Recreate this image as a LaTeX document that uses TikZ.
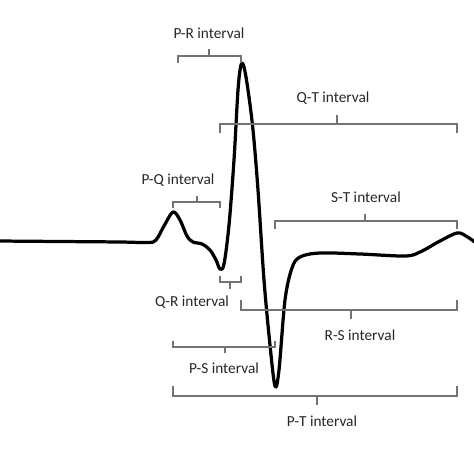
\documentclass[tikz,border=0pt]{standalone}
\usepackage{fontspec}
\setmainfont{Carlito}
\usepackage{tikz}

\begin{document}
\begin{tikzpicture}[x=0.05cm, y=-0.05cm, brk/.style={draw=black!55, line width=2.6pt}, wave/.style={line width=4.6pt, line join=round, line cap=round}, lbl/.style={font=\fontsize{21.8}{26}\selectfont, text=black!85, inner sep=0pt}]
        \useasboundingbox (0, 0) rectangle (474, 474);

        \draw[wave] plot[smooth, tension=0.55] coordinates {(-3, 241) (60, 241.5) (120, 242) (148, 242.5) (156, 240) (164, 226) (173, 212) (180, 220) (187, 236) (193, 242) (202, 244) (210, 250) (216, 260) (220, 269) (224, 264) (229, 225) (234, 160) (238, 90) (241, 65) (244, 67) (248, 90) (253, 130) (258, 190) (264, 280) (270, 345) (275, 386) (279, 370) (285, 300) (292, 268) (300, 257) (320, 253) (360, 254) (405, 256) (420, 252) (440, 241) (457, 233) (466, 236) (476, 243)};

        \node[lbl] (pr) at (209, 33) {P-R interval};
        \draw[brk] (178, 63) -- (178, 56) -- (241, 56) -- (241, 63) (209, 56) -- (209, 49);

        \node[lbl] (qt) at (333, 98) {Q-T interval};
        \draw[brk] (220, 133) -- (220, 124) -- (457, 124) -- (457, 133) (337, 124) -- (337, 115);

        \node[lbl] (pq) at (178, 180) {P-Q interval};
        \draw[brk] (173, 208) -- (173, 202) -- (220, 202) -- (220, 208) (197, 202) -- (197, 196);

        \node[lbl] (st) at (366, 197) {S-T interval};
        \draw[brk] (275, 229) -- (275, 221) -- (457, 221) -- (457, 229) (365, 221) -- (365, 214);

        \node[lbl] (qr) at (192, 302) {Q-R interval};
        \draw[brk] (220, 276) -- (220, 282) -- (241, 282) -- (241, 276) (230, 282) -- (230, 289);

        \node[lbl] (rs) at (360, 335) {R-S interval};
        \draw[brk] (241, 300) -- (241, 310) -- (457, 310) -- (457, 300) (351, 310) -- (351, 319);

        \node[lbl] (ps) at (224, 368) {P-S interval};
        \draw[brk] (173, 341) -- (173, 347) -- (275, 347) -- (275, 341) (225, 347) -- (225, 353);

        \node[lbl] (pt) at (322, 421) {P-T interval};
        \draw[brk] (173, 386) -- (173, 396) -- (457, 396) -- (457, 386) (317, 396) -- (317, 405);
\end{tikzpicture}
\end{document}
